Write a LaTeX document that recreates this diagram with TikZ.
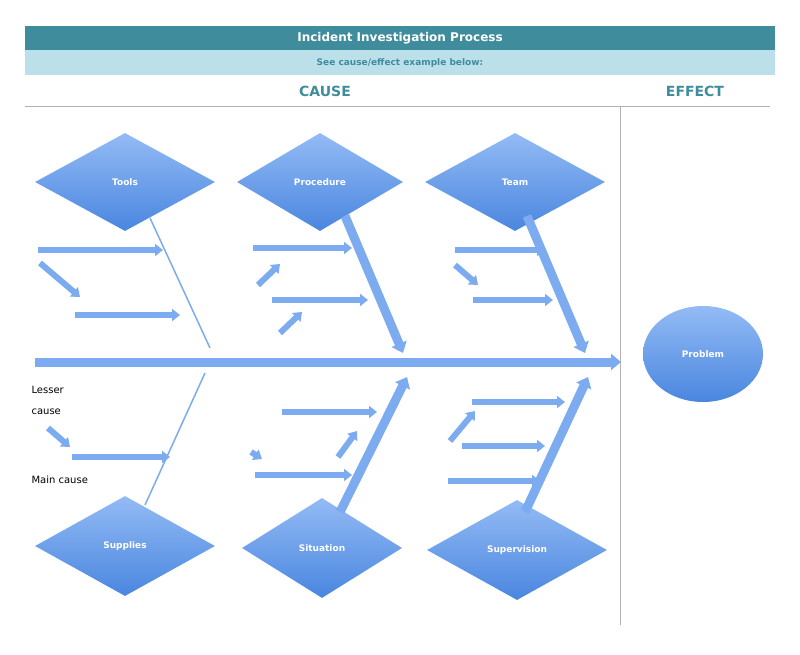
\documentclass[tikz,border=0pt]{standalone}
\usepackage{fontspec}
\setmainfont{DejaVu Sans}
\usetikzlibrary{arrows.meta,shapes.geometric}
\definecolor{teal}{HTML}{3F8C9C}
\definecolor{lightteal}{HTML}{BCE0EA}
\definecolor{bone}{HTML}{7DABEF}
\definecolor{boneTop}{HTML}{93BBF5}
\definecolor{boneBot}{HTML}{4A86DF}
\tikzset{
  cat/.style={diamond, top color=boneTop, bottom color=boneBot, draw=none,
    text=white, font=\fontsize{9}{10}\selectfont\bfseries, inner sep=0pt},
  twig/.style={draw=bone, line width=6pt, -{Triangle[width=12pt,length=8pt]}},
  bigbone/.style={draw=bone, line width=9pt, -{Triangle[width=16pt,length=10pt]}},
  thinbone/.style={draw=bone, line width=1.5pt},
  note/.style={anchor=west, font=\fontsize{10}{11}\selectfont}
}
\begin{document}
\begin{tikzpicture}[x=1pt,y=-1pt]
  \useasboundingbox (0,0) rectangle (800,655);
  % header
  \fill[teal] (25,26) rectangle (775,50);
  \fill[lightteal] (25,50) rectangle (775,75);
  \node[text=white, font=\fontsize{12}{13}\selectfont\bfseries] (title) at (400,38) {Incident Investigation Process};
  \node[text=teal, font=\fontsize{9}{10}\selectfont\bfseries] (subtitle) at (400,63) {See cause/effect example below:};
  \node[text=teal, font=\fontsize{14}{15}\selectfont\bfseries] (cause) at (325,91) {CAUSE};
  \node[text=teal, font=\fontsize{14}{15}\selectfont\bfseries] (effect) at (695,91) {EFFECT};
  \draw[gray!60, line width=1pt] (25,107) -- (770,107);
  \draw[gray!60, line width=1pt] (620,107) -- (620,625);

  % categories
  \node[cat, minimum width=180pt, minimum height=98pt] (tools) at (125,182) {Tools};
  \node[cat, minimum width=166pt, minimum height=98pt] (procedure) at (320,182) {Procedure};
  \node[cat, minimum width=180pt, minimum height=98pt] (team) at (515,182) {Team};
  \node[cat, minimum width=180pt, minimum height=100pt] (supplies) at (125,546) {Supplies};
  \node[cat, minimum width=160pt, minimum height=100pt] (situation) at (322,548) {Situation};
  \node[cat, minimum width=180pt, minimum height=100pt] (supervision) at (517,550) {Supervision};
  \node[ellipse, top color=boneTop, bottom color=boneBot, minimum width=120pt, minimum height=96pt,
    text=white, font=\fontsize{9}{10}\selectfont\bfseries] (problem) at (703,354) {Problem};

  % spine and main bones
  \coordinate (tail) at (35,362);
  \coordinate (head) at (621,362);
  \draw[bigbone] (tail) -- (head);
  \coordinate (toolsEnd) at (210,348);
  \coordinate (suppliesEnd) at (205,373);
  \draw[thinbone] (150,218) -- (toolsEnd);
  \draw[thinbone] (suppliesEnd) -- (145,505);
  \draw[bigbone] (345,216) -- (403,353);
  \draw[bigbone] (527,216) -- (585,353);
  \draw[bigbone] (340,512) -- (407,377);
  \draw[bigbone] (525,512) -- (588,377);

  % tools twigs
  \draw[twig] (38,250) -- (163,250);
  \draw[twig] (40,263) -- (80,297);
  \draw[twig] (75,315) -- (180,315);
  % procedure twigs
  \draw[twig] (253,248) -- (352,248);
  \draw[twig] (258,285) -- (280,264);
  \draw[twig] (272,300) -- (368,300);
  \draw[twig] (280,333) -- (302,312);
  % team twigs
  \draw[twig] (455,250) -- (545,250);
  \draw[twig] (455,265) -- (478,285);
  \draw[twig] (473,300) -- (553,300);
  % supplies twigs
  \draw[twig] (48,428) -- (70,447);
  \draw[twig] (72,457) -- (170,457);
  % situation twigs
  \draw[twig] (282,412) -- (377,412);
  \draw[twig] (251,452) -- (262,459);
  \draw[twig] (338,457) -- (357,431);
  \draw[twig] (255,475) -- (352,475);
  % supervision twigs
  \draw[twig] (472,402) -- (565,402);
  \draw[twig] (450,441) -- (475,411);
  \draw[twig] (462,446) -- (545,446);
  \draw[twig] (448,481) -- (540,481);

  % labels
  \node[note] (lesser) at (28,390) {Lesser};
  \node[note] (lesserb) at (28,412) {cause};
  \node[note] (main) at (28,480) {Main cause};
\end{tikzpicture}
\end{document}
